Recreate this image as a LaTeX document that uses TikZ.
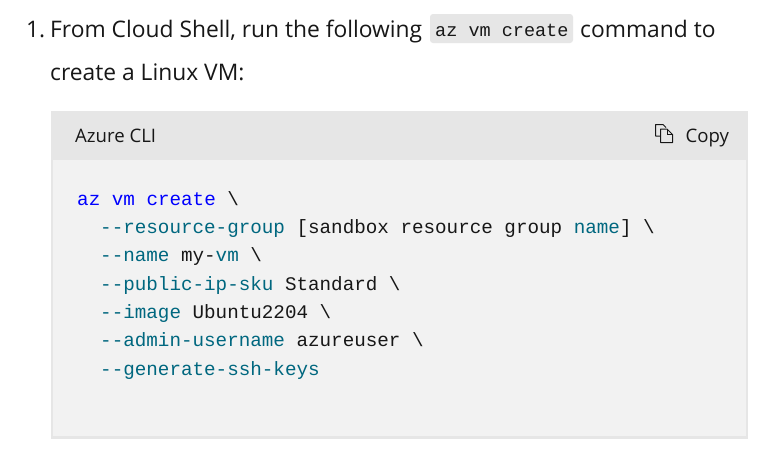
\documentclass[tikz,border=0pt]{standalone}
\usepackage{fontspec}
\usepackage{tikz}
\setmainfont{Open Sans}
\setmonofont{Liberation Mono}
\usetikzlibrary{positioning}
\definecolor{inktext}{HTML}{171717}
\definecolor{keyblue}{HTML}{0000FF}
\definecolor{flagteal}{HTML}{00677F}
\definecolor{headgray}{HTML}{E6E6E6}
\definecolor{bodygray}{HTML}{F2F2F2}
\newcommand{\kw}[1]{\textcolor{keyblue}{#1}}
\newcommand{\flag}[1]{\textcolor{flagteal}{#1}}

\begin{document}
\begin{tikzpicture}[
    x=1pt, y=-1pt,
    prose style/.style={anchor=base west, inner sep=0pt, text=inktext, font=\fontsize{22.8}{26}\selectfont},
    label style/.style={anchor=base west, inner sep=0pt, text=inktext, font=\fontsize{18.6}{22}\selectfont},
    code style/.style={anchor=base west, inner sep=0pt, text=inktext, font=\ttfamily\fontsize{19.25}{22}\selectfont},
    inline style/.style={anchor=base west, inner sep=0pt, text=inktext, font=\ttfamily\fontsize{18.5}{22}\selectfont}
]
        \useasboundingbox (0, 0) rectangle (769, 461);
        \fill[white] (0, 0) rectangle (769, 461);

        % text above the block
        \fill[rounded corners=3pt, fill=headgray] (430, 14) rectangle (573, 43);
        \node[prose style] (number) at (26, 37) {1.};
        \node[prose style] (lineone) at (50, 37) {From Cloud Shell, run the following};
        \node[inline style] (inlinecode) at (435, 36) {az vm create};
        \node[prose style] (lineonerest) at (580, 37) {command to};
        \node[prose style] (linetwo) at (50, 80) {create a Linux VM:};

        % code block
        \fill[headgray] (50.5, 111) rectangle (748, 439);
        \fill[bodygray] (53, 160) rectangle (745.5, 436);
        \node[label style] (azure) at (75, 142) {Azure CLI};
        \node[label style] (copy) at (685.5, 142) {Copy};

        % copy icon
        \draw[inktext, line width=1pt, line join=round] (661, 136) -- (655.5, 136) -- (655.5, 124.5) -- (663, 124.5) -- (666, 127.5);
        \draw[inktext, line width=1pt, line join=round, fill=headgray] (660.5, 129) -- (667, 129) -- (672.5, 134.5) -- (672.5, 142.5) -- (660.5, 142.5) -- cycle;
        \draw[inktext, line width=1pt] (667, 129) -- (667, 134.5) -- (672.5, 134.5);

        % code lines
        \node[code style] (create) at (77, 205) {\kw{az vm create} \textbackslash};
        \node[code style] (group) at (100, 233) {\flag{--resource-group} [sandbox resource group \flag{name}] \textbackslash};
        \node[code style] (name) at (100, 261) {\flag{--name} my-\flag{vm} \textbackslash};
        \node[code style] (sku) at (100, 290) {\flag{--public-ip-sku} Standard \textbackslash};
        \node[code style] (image) at (100, 318) {\flag{--image} Ubuntu2204 \textbackslash};
        \node[code style] (admin) at (100, 346) {\flag{--admin-username} azureuser \textbackslash};
        \node[code style] (keys) at (100, 375) {\flag{--generate-ssh-keys}};
    \end{tikzpicture}
\end{document}
